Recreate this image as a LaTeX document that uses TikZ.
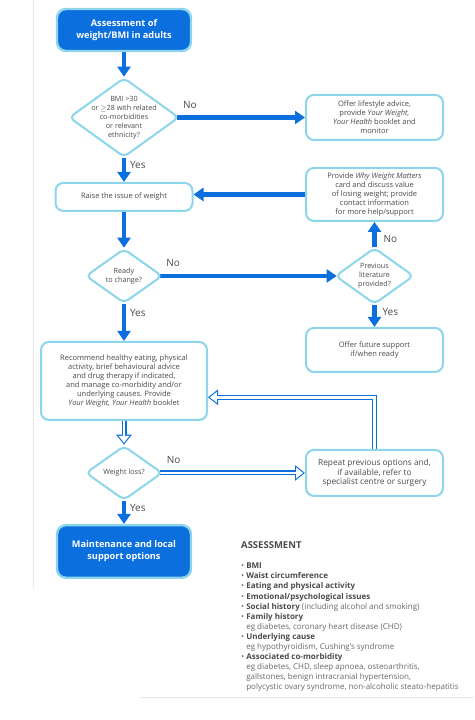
\documentclass[tikz,border=0pt]{standalone}
\usepackage{fontspec}
\setmainfont{Open Sans}
\usepackage{tikz}
\usetikzlibrary{shapes.geometric, arrows.meta, positioning, calc, backgrounds}
\definecolor{flow}{HTML}{0B6FDD}
\definecolor{rim}{HTML}{8DD5EA}
\definecolor{ink}{HTML}{4A4A4A}
\definecolor{note}{HTML}{686868}
\definecolor{rule}{HTML}{E8E8E8}
\newcommand{\keyterm}[1]{\textbf{\color{ink}#1}}
\newcommand{\eglead}{\hphantom{\textbullet\ }}
\tikzset{
  % Node styles
  keybox/.style={rectangle, rounded corners=9pt, draw=rim, line width=2.4pt, fill=flow, text=white, align=center, font=\fontsize{9.2}{12}\selectfont\bfseries, minimum width=134pt, minimum height=#1},
  keybox/.default={42pt},
  stepbox/.style={rectangle, rounded corners=8pt, draw=rim, line width=2pt, fill=white, text=ink, align=center, font=\fontsize{7.5}{9}\selectfont, minimum width=#1},
  stepbox/.default={137pt},
  query/.style={diamond, rounded corners=5pt, draw=rim, line width=2pt, fill=white, inner sep=0pt},
  querytext/.style={text=ink, align=center, font=\fontsize{7.2}{9}\selectfont},
  answer/.style={text=ink, font=\fontsize{10}{12}\selectfont, inner sep=1pt},
  listhead/.style={text=ink, inner sep=0pt, font=\fontsize{9.5}{11}\selectfont\bfseries},
  listbody/.style={text=note, inner sep=0pt, align=left, font=\fontsize{8}{10.1}\selectfont},
  % Connector styles
  flowarrow/.style={draw=flow, line width=4.2pt, -{Triangle[width=13pt, length=10pt]}},
  hollowrim/.style={draw=flow, line width=5pt, -{Triangle[width=15pt, length=10pt]}},
  hollowcore/.style={draw=white, line width=2.8pt, shorten >=1.8pt, -{Triangle[width=10.6pt, length=7.1pt]}},
}

\begin{document}
\begin{tikzpicture}[x=1pt, y=-1pt]
  \useasboundingbox (0,0) rectangle (474,720);
  % Page rules
  \draw[rule, line width=0.8pt] (33,0) -- (33,588);
  \draw[rule, line width=0.8pt] (140,697) -- (474,697);

  % Main column
  \node[keybox] (assess) at (124,30) {Assessment of\\weight/BMI in adults};
  \node[query, minimum width=110pt, minimum height=79.5pt, below=24.5pt of assess,
    label={[querytext]center:{BMI >30\\or $\geq$28 with related\\co-morbidities\\or relevant\\ethnicity?}}] (bmi) {};
  \node[stepbox, minimum height=28pt, below=23.75pt of bmi] (raise) {Raise the issue of weight};
  \node[query, minimum width=76.6pt, minimum height=54.5pt, below=35.75pt of raise,
    label={[querytext]center:{Ready\\to change?}}] (ready) {};
  \node[stepbox=166pt, minimum height=78pt, below=36.75pt of ready] (recommend) {Recommend healthy eating, physical\\activity, brief behavioural advice\\and drug therapy if indicated,\\and manage co-morbidity and/or\\underlying causes. Provide\\\textit{Your Weight, Your Health} booklet};
  \node[query, minimum width=76.6pt, minimum height=54.5pt, below=23.75pt of recommend,
    label={[querytext]center:{Weight loss?}}] (wloss) {};
  \node[keybox=52.6pt, below=22.75pt of wloss] (maint) {Maintenance and local\\support options};

  % Right column
  \node[stepbox, minimum height=45pt, right=125pt of bmi] (lifestyle) {Offer lifestyle advice,\\provide \textit{Your Weight,}\\\textit{Your Health} booklet and\\monitor};
  \node[stepbox, minimum height=53pt, below=26pt of lifestyle] (provide) {Provide \textit{Why Weight Matters}\\card and discuss value\\of losing weight; provide\\contact information\\for more help/support};
  \node[query, minimum width=78.6pt, minimum height=56.5pt, below=24.75pt of provide,
    label={[querytext]center:{Previous\\literature\\provided?}}] (previous) {};
  \node[stepbox, minimum height=44pt, below=21.75pt of previous] (future) {Offer future support\\if/when ready};
  \node[stepbox, minimum height=46pt, right=141.7pt of wloss, font=\fontsize{8.3}{9.6}\selectfont] (repeat) {Repeat previous options and,\\if available, refer to\\specialist centre or surgery};

  % Assessment notes
  \node[listhead, anchor=base west] (heading) at (241,548.5) {ASSESSMENT};
  \node[listbody, below right=14pt and 0pt of heading.south west] (factors) {%
    \textbullet\ \keyterm{BMI}\\
    \textbullet\ \keyterm{Waist circumference}\\
    \textbullet\ \keyterm{Eating and physical activity}\\
    \textbullet\ \keyterm{Emotional/psychological issues}\\
    \textbullet\ \keyterm{Social history} (including alcohol and smoking)\\
    \textbullet\ \keyterm{Family history}\\
    \eglead eg diabetes, coronary heart disease (CHD)\\
    \textbullet\ \keyterm{Underlying cause}\\
    \eglead eg hypothyroidism, Cushing's syndrome\\
    \textbullet\ \keyterm{Associated co-morbidity}\\
    \eglead eg diabetes, CHD, sleep apnoea, osteoarthritis,\\
    \eglead gallstones, benign intracranial hypertension,\\
    \eglead polycystic ovary syndrome, non-alcoholic steato-hepatitis};

  % Connectors
  \begin{scope}[on background layer]
    \draw[flowarrow] (assess) -- (bmi);
    \draw[flowarrow, shorten <=-3pt] (bmi.east) -- node[answer, pos=0, above right=5.5pt and 0pt] {No} (lifestyle.west);
    \draw[flowarrow] (bmi) -- node[answer, pos=0.3, right=3pt] {Yes} (raise);
    \draw[flowarrow] (provide.west) -- (provide.west -| raise.east);
    \draw[flowarrow] (raise) -- (ready);
    \draw[flowarrow, shorten <=-3pt, shorten >=-2.5pt] (ready.east) -- node[answer, pos=0, above right=6pt and 0pt] {No} (previous.west);
    \draw[flowarrow] (previous) -- node[answer, pos=0.3, right=6pt] {No} (provide);
    \draw[flowarrow] (previous) -- node[answer, pos=0.3, right=5pt] {Yes} (future);
    \draw[flowarrow] (ready) -- node[answer, pos=0.25, right=3pt] {Yes} (recommend);
    \draw[flowarrow] (wloss) -- node[answer, pos=0.3, right=3pt] {Yes} (maint);
    % hollow connectors: rim first, then white core
    \draw[hollowrim] (recommend) -- (wloss);
    \draw[hollowcore] (recommend) -- (wloss);
    \draw[hollowrim, shorten <=-3pt] (wloss.east) -- node[answer, pos=0, above right=6pt and 0pt] {No} (repeat.west);
    \draw[hollowcore, shorten <=-3pt] (wloss.east) -- (repeat.west);
    \draw[hollowrim] (repeat.north) |- (recommend.-11);
    \draw[hollowcore] (repeat.north) |- (recommend.-11);
  \end{scope}
\end{tikzpicture}
\end{document}
